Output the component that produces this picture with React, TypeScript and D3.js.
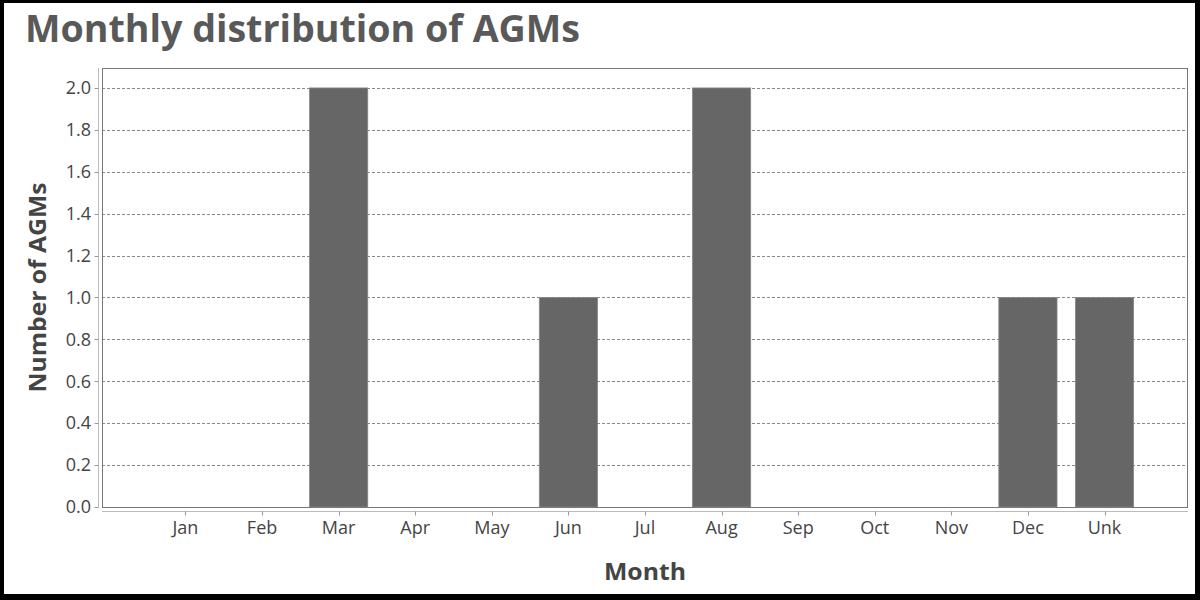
import * as d3 from "d3";
import { useEffect, useRef } from "react";

const months = ["Jan", "Feb", "Mar", "Apr", "May", "Jun", "Jul", "Aug", "Sep", "Oct", "Nov", "Dec", "Unk"];
const counts = [0, 0, 2, 0, 0, 1, 0, 2, 0, 0, 0, 1, 1];
const yTicks = [0, 0.2, 0.4, 0.6, 0.8, 1.0, 1.2, 1.4, 1.6, 1.8, 2.0];

const W = 1200;
const H = 600;
const FONT = "'Open Sans', 'DejaVu Sans', sans-serif";

export default function App() {
  const ref = useRef<SVGSVGElement | null>(null);

  useEffect(() => {
    document.body.style.margin = "0";
    const svg = d3.select(ref.current);
    svg.selectAll("*").remove();

    // frame
    svg.append("rect").attr("width", W).attr("height", H).attr("fill", "#000");
    svg.append("rect").attr("x", 4).attr("y", 3).attr("width", 1191).attr("height", 591).attr("fill", "#fff");

    const left = 102, right = 1188, top = 68, bottom = 507;

    const x = d3.scaleBand<string>()
      .domain(months)
      .range([left, right])
      .paddingInner(0.24)
      .paddingOuter(0.71);

    const y = d3.scaleLinear()
      .domain([0, 2.0952])
      .range([bottom, top]);

    // title
    svg.append("text")
      .attr("x", 25)
      .attr("y", 42)
      .attr("font-family", FONT)
      .attr("font-weight", 700)
      .attr("font-size", 37)
      .attr("fill", "#595959")
      .attr("textLength", 555)
      .attr("lengthAdjust", "spacingAndGlyphs")
      .text("Monthly distribution of AGMs");

    // gridlines
    svg.append("g")
      .selectAll("line")
      .data(yTicks.filter((t) => t > 0))
      .join("line")
      .attr("x1", left)
      .attr("x2", right)
      .attr("y1", (d) => Math.round(y(d)) + 0.5)
      .attr("y2", (d) => Math.round(y(d)) + 0.5)
      .attr("stroke", "#888")
      .attr("stroke-width", 1)
      .attr("stroke-dasharray", "3,2");

    // bars
    svg.append("g")
      .selectAll("rect")
      .data(months.map((m, i) => ({ m, v: counts[i] })).filter((d) => d.v > 0))
      .join("rect")
      .attr("x", (d) => x(d.m)!)
      .attr("y", (d) => y(d.v))
      .attr("width", x.bandwidth())
      .attr("height", (d) => bottom - y(d.v))
      .attr("fill", "#666")
      .attr("stroke", "#888")
      .attr("stroke-width", 0.8);

    // plot box
    svg.append("rect")
      .attr("x", left + 0.5)
      .attr("y", top + 0.5)
      .attr("width", right - left - 1)
      .attr("height", bottom - top)
      .attr("fill", "none")
      .attr("stroke", "#777")
      .attr("stroke-width", 1);

    // y axis
    const yAxisX = 98.5;
    svg.append("line")
      .attr("x1", yAxisX).attr("x2", yAxisX)
      .attr("y1", top).attr("y2", bottom + 0.5)
      .attr("stroke", "#bbb");
    const yg = svg.append("g");
    yg.selectAll("line")
      .data(yTicks)
      .join("line")
      .attr("x1", yAxisX - 4)
      .attr("x2", yAxisX)
      .attr("y1", (d) => Math.round(y(d)) + 0.5)
      .attr("y2", (d) => Math.round(y(d)) + 0.5)
      .attr("stroke", "#999");
    yg.selectAll("text")
      .data(yTicks)
      .join("text")
      .attr("x", 91)
      .attr("y", (d) => y(d))
      .attr("dy", "0.35em")
      .attr("text-anchor", "end")
      .attr("font-family", FONT)
      .attr("font-size", 18)
      .attr("fill", "#444")
      .text((d) => d3.format(".1f")(d));

    // x axis
    const xAxisY = 511.5;
    svg.append("line")
      .attr("x1", left).attr("x2", right)
      .attr("y1", xAxisY).attr("y2", xAxisY)
      .attr("stroke", "#bbb");
    const xg = svg.append("g");
    xg.selectAll("line")
      .data(months)
      .join("line")
      .attr("x1", (d) => Math.round(x(d)! + x.bandwidth() / 2) + 0.5)
      .attr("x2", (d) => Math.round(x(d)! + x.bandwidth() / 2) + 0.5)
      .attr("y1", xAxisY)
      .attr("y2", xAxisY + 4)
      .attr("stroke", "#999");
    xg.selectAll("text")
      .data(months)
      .join("text")
      .attr("x", (d) => x(d)! + x.bandwidth() / 2)
      .attr("y", 534)
      .attr("text-anchor", "middle")
      .attr("font-family", FONT)
      .attr("font-size", 18)
      .attr("fill", "#444")
      .text((d) => d);

    // axis titles
    svg.append("text")
      .attr("x", (left + right) / 2)
      .attr("y", 580)
      .attr("text-anchor", "middle")
      .attr("font-family", FONT)
      .attr("font-weight", 700)
      .attr("font-size", 24)
      .attr("fill", "#444")
      .attr("textLength", 82)
      .attr("lengthAdjust", "spacingAndGlyphs")
      .text("Month");

    svg.append("text")
      .attr("transform", `translate(46,${(top + bottom) / 2}) rotate(-90)`)
      .attr("text-anchor", "middle")
      .attr("font-family", FONT)
      .attr("font-weight", 700)
      .attr("font-size", 23)
      .attr("fill", "#444")
      .attr("textLength", 210)
      .attr("lengthAdjust", "spacingAndGlyphs")
      .text("Number of AGMs");
  }, []);

  return <svg ref={ref} width={W} height={H} style={{ display: "block" }} />;
}
